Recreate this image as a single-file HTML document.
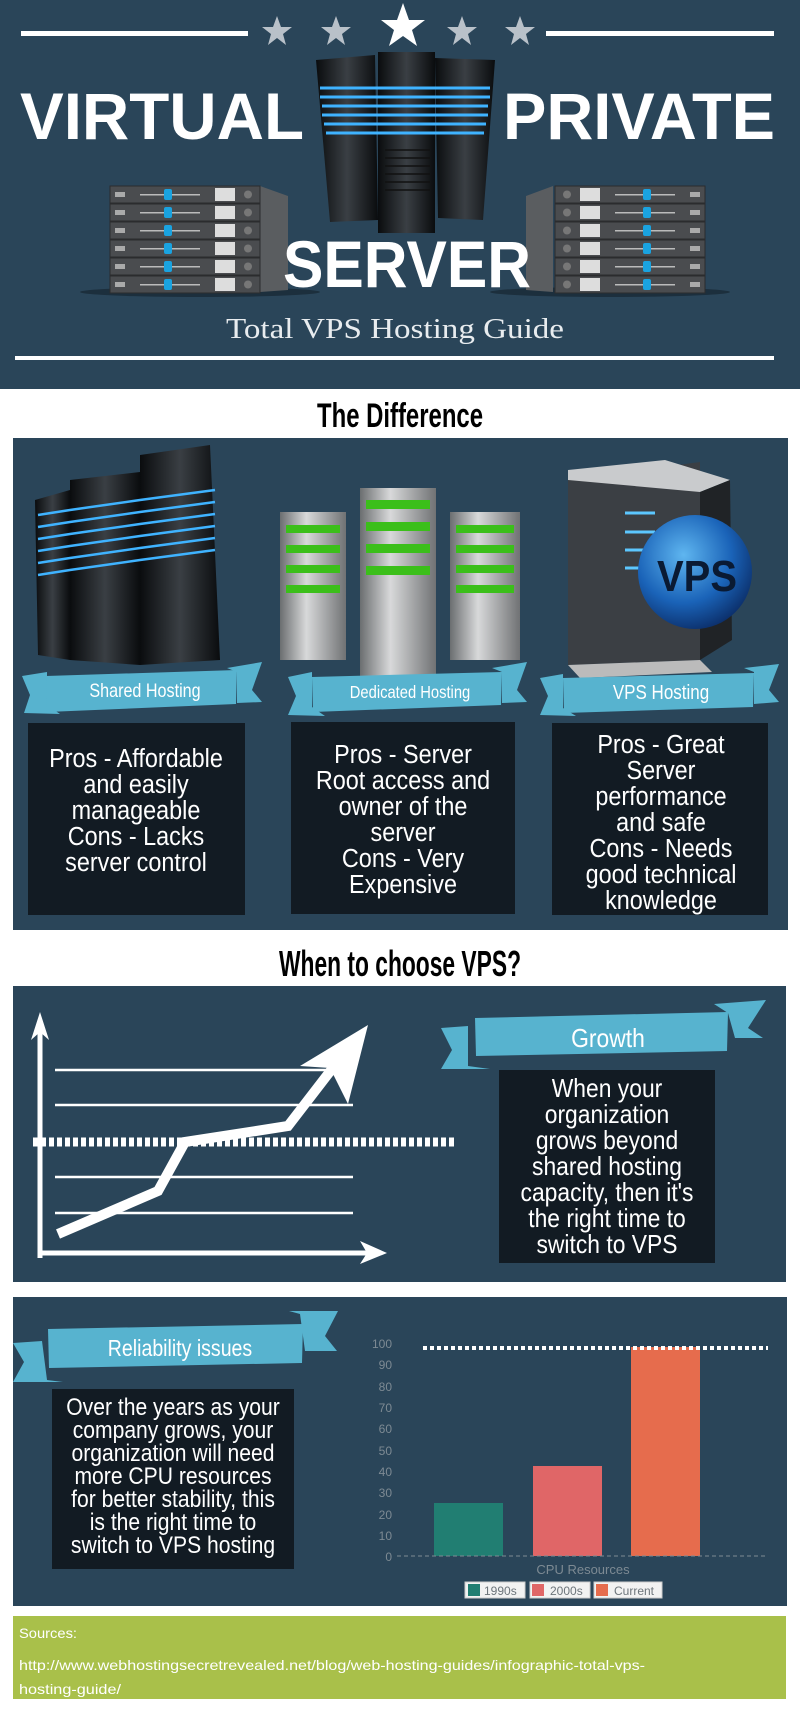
<!DOCTYPE html>
<html><head><meta charset="utf-8"><style>
html,body{margin:0;padding:0;background:#fff;width:800px;height:1712px;overflow:hidden}
svg{display:block}
.t{font-family:"Liberation Sans",sans-serif;fill:#fff}
</style></head><body>
<svg width="800" height="1712" viewBox="0 0 800 1712" xmlns="http://www.w3.org/2000/svg">
<defs>
<linearGradient id="tw" x1="0" x2="1"><stop offset="0" stop-color="#0a0c0e"/><stop offset=".5" stop-color="#3a3f44"/><stop offset="1" stop-color="#0a0c0e"/></linearGradient>
<linearGradient id="silver" x1="0" x2="1"><stop offset="0" stop-color="#6b6e70"/><stop offset=".4" stop-color="#d8d9da"/><stop offset="1" stop-color="#707274"/></linearGradient>
<radialGradient id="globe" cx=".4" cy=".35" r=".7"><stop offset="0" stop-color="#5fb6f0"/><stop offset=".6" stop-color="#1a63b8"/><stop offset="1" stop-color="#0b2c66"/></radialGradient>
<g id="rackL">
 <rect x="0" y="0" width="150" height="17" fill="#4a4c4f" stroke="#2b2c2e"/>
 <rect x="5" y="6" width="10" height="5" fill="#aaa"/>
 <rect x="30" y="8" width="60" height="1.5" fill="#bbb"/>
 <rect x="54" y="3" width="8" height="11" rx="2" fill="#1aa3e0"/>
 <rect x="105" y="2" width="20" height="13" fill="#ddd"/>
 <circle cx="138" cy="8.5" r="4" fill="#777"/>
</g>
</defs>

<rect x="0" y="0" width="800" height="389" fill="#2a4559"/>
<rect x="21" y="31" width="227" height="5" fill="#fff"/>
<rect x="546" y="31" width="228" height="5" fill="#fff"/>
<g fill="#b9c1c9">
<polygon points="277,16 281,27 292,27 283,34 286,45 277,38 268,45 271,34 262,27 273,27"/>
<polygon points="336,16 340,27 351,27 342,34 345,45 336,38 327,45 330,34 321,27 332,27"/>
<polygon points="462,16 466,27 477,27 468,34 471,45 462,38 453,45 456,34 447,27 458,27"/>
<polygon points="520,16 524,27 535,27 526,34 529,45 520,38 511,45 514,34 505,27 516,27"/>
</g>
<polygon fill="#fff" points="403,3 409,20 425,20 412,30 417,46 403,36 389,46 394,30 381,20 397,20"/>

<polygon points="316,60 375,55 378,220 330,222" fill="url(#tw)"/>
<polygon points="435,58 495,60 483,220 438,218" fill="url(#tw)"/>
<rect x="378" y="52" width="57" height="181" fill="url(#tw)"/>
<g stroke="#3fb3ff" stroke-width="3">
<line x1="320" y1="88" x2="490" y2="88"/><line x1="320" y1="97" x2="490" y2="97"/>
<line x1="322" y1="106" x2="488" y2="106"/><line x1="322" y1="115" x2="488" y2="115"/>
<line x1="324" y1="124" x2="486" y2="124"/><line x1="326" y1="133" x2="484" y2="133"/>
</g>
<g stroke="#111" stroke-width="1.5"><line x1="385" y1="150" x2="430" y2="150"/><line x1="385" y1="158" x2="430" y2="158"/><line x1="385" y1="166" x2="430" y2="166"/><line x1="385" y1="174" x2="430" y2="174"/><line x1="385" y1="182" x2="430" y2="182"/><line x1="385" y1="190" x2="430" y2="190"/></g>

<ellipse cx="200" cy="292" rx="120" ry="5" fill="#1c2f3d"/>
<ellipse cx="610" cy="292" rx="120" ry="5" fill="#1c2f3d"/>
<polygon points="260,186 288,196 288,290 260,292" fill="#5a5d60"/>
<g transform="translate(110,186)"><use href="#rackL"/><use href="#rackL" y="18"/><use href="#rackL" y="36"/><use href="#rackL" y="54"/><use href="#rackL" y="72"/><use href="#rackL" y="90"/></g>
<polygon points="553,186 526,196 526,290 553,292" fill="#5a5d60"/>
<g transform="translate(705,186) scale(-1,1)"><use href="#rackL"/><use href="#rackL" y="18"/><use href="#rackL" y="36"/><use href="#rackL" y="54"/><use href="#rackL" y="72"/><use href="#rackL" y="90"/></g>

<text x="20" y="139" font-family="Liberation Sans,sans-serif" font-weight="bold" font-size="66" fill="#fff" textLength="284" lengthAdjust="spacingAndGlyphs">VIRTUAL</text>
<text x="503" y="139" font-family="Liberation Sans,sans-serif" font-weight="bold" font-size="66" fill="#fff" textLength="272" lengthAdjust="spacingAndGlyphs">PRIVATE</text>
<text x="283" y="287" font-family="Liberation Sans,sans-serif" font-weight="bold" font-size="66" fill="#fff" textLength="248" lengthAdjust="spacingAndGlyphs">SERVER</text>
<text x="226" y="338" font-family="Liberation Serif,serif" font-size="28" fill="#e8ecef" textLength="338" lengthAdjust="spacingAndGlyphs">Total VPS Hosting Guide</text>
<rect x="15" y="356" width="759" height="4" fill="#fff"/>

<text x="400" y="427" text-anchor="middle" font-family="Liberation Sans,sans-serif" font-weight="bold" font-size="34" fill="#000" textLength="166" lengthAdjust="spacingAndGlyphs">The Difference</text>
<rect x="13" y="438" width="775" height="492" fill="#2a4559"/>

<g>
<polygon points="35,500 70,490 70,660 38,655" fill="url(#tw)"/>
<polygon points="70,480 140,472 140,665 70,660" fill="url(#tw)"/>
<polygon points="140,455 210,445 220,660 140,665" fill="url(#tw)"/>
<g stroke="#3fb3ff" stroke-width="2.5" fill="none">
<path d="M38,515 L70,510 L140,500 L215,490"/><path d="M38,527 L70,522 L140,512 L215,502"/>
<path d="M38,539 L70,534 L140,524 L215,514"/><path d="M38,551 L70,546 L140,536 L215,526"/>
<path d="M38,563 L70,558 L140,548 L215,538"/><path d="M38,575 L70,570 L140,560 L215,550"/>
</g>
</g>
<g>
<rect x="280" y="512" width="66" height="148" fill="url(#silver)"/>
<rect x="360" y="488" width="76" height="190" fill="url(#silver)"/>
<rect x="450" y="512" width="70" height="148" fill="url(#silver)"/>
<g fill="#3bbf1a">
<rect x="286" y="525" width="54" height="8"/><rect x="286" y="545" width="54" height="8"/><rect x="286" y="565" width="54" height="8"/><rect x="286" y="585" width="54" height="8"/>
<rect x="366" y="500" width="64" height="9"/><rect x="366" y="522" width="64" height="9"/><rect x="366" y="544" width="64" height="9"/><rect x="366" y="566" width="64" height="9"/>
<rect x="456" y="525" width="58" height="8"/><rect x="456" y="545" width="58" height="8"/><rect x="456" y="565" width="58" height="8"/><rect x="456" y="585" width="58" height="8"/>
</g>
</g>
<g>
<polygon points="568,480 700,462 700,660 568,665" fill="#3b3f44"/>
<polygon points="568,470 665,460 730,480 700,492 568,480" fill="#c9cbcd"/>
<polygon points="700,492 730,480 732,640 700,660" fill="#202326"/>
<g stroke="#5cc7ff" stroke-width="3"><line x1="625" y1="513" x2="655" y2="513"/><line x1="625" y1="532" x2="655" y2="532"/><line x1="625" y1="550" x2="655" y2="550"/><line x1="625" y1="568" x2="655" y2="568"/></g>
<polygon points="568,665 700,660 712,672 580,678" fill="#bbb"/>
<circle cx="695" cy="572" r="57" fill="url(#globe)"/>
<text x="697" y="591" text-anchor="middle" font-family="Liberation Sans,sans-serif" font-weight="bold" font-size="44" fill="#0a1a33" textLength="80" lengthAdjust="spacingAndGlyphs">VPS</text>
</g>

<g fill="#57b3cf">
<polygon points="22,676 47,672 47,705 60,714 24,713 30,695"/>
<polygon points="237,672 227,668 262,662 252,690 262,702 237,703"/>
<polygon points="46,676 237,670 236,704 47,712"/>
<polygon points="288,677 312,672 312,707 325,716 288,715 296,696"/>
<polygon points="502,672 492,668 527,662 517,690 527,702 502,703"/>
<polygon points="312,677 502,672 501,705 313,712"/>
<polygon points="540,678 563,674 563,708 576,716 540,715 548,696"/>
<polygon points="754,672 744,668 779,664 769,690 779,702 754,704"/>
<polygon points="563,678 754,673 753,707 564,713"/>
</g>
<g class="t" text-anchor="middle">
<g transform="translate(145,0) scale(0.85,1)"><text x="0" y="697" font-size="19">Shared Hosting</text></g>
<g transform="translate(410,0) scale(0.82,1)"><text x="0" y="698" font-size="18">Dedicated Hosting</text></g>
<g transform="translate(661,0) scale(0.85,1)"><text x="0" y="699" font-size="20">VPS Hosting</text></g>
</g>

<rect x="28" y="723" width="217" height="192" fill="#121b23"/>
<rect x="291" y="722" width="224" height="192" fill="#121b23"/>
<rect x="552" y="723" width="216" height="192" fill="#121b23"/>
<g class="t" font-size="26" text-anchor="middle">
<g transform="translate(136,0) scale(0.9,1)"><text y="767">Pros - Affordable</text><text y="793">and easily</text><text y="819">manageable</text><text y="845">Cons - Lacks</text><text y="871">server control</text></g>
<g transform="translate(403,0) scale(0.9,1)"><text y="763">Pros - Server</text><text y="789">Root access and</text><text y="815">owner of the</text><text y="841">server</text><text y="867">Cons - Very</text><text y="893">Expensive</text></g>
<g transform="translate(661,0) scale(0.9,1)"><text y="753">Pros - Great</text><text y="779">Server</text><text y="805">performance</text><text y="831">and safe</text><text y="857">Cons - Needs</text><text y="883">good technical</text><text y="909">knowledge</text></g>
</g>

<text x="400" y="976" text-anchor="middle" font-family="Liberation Sans,sans-serif" font-weight="bold" font-size="36" fill="#000" textLength="242" lengthAdjust="spacingAndGlyphs">When to choose VPS?</text>
<rect x="13" y="986" width="773" height="296" fill="#2a4559"/>
<g stroke="#fff" stroke-width="2.5">
<line x1="55" y1="1070" x2="353" y2="1070"/><line x1="55" y1="1105" x2="353" y2="1105"/>
<line x1="55" y1="1177" x2="353" y2="1177"/><line x1="55" y1="1213" x2="353" y2="1213"/>
</g>
<line x1="33" y1="1142" x2="457" y2="1142" stroke="#fff" stroke-width="9" stroke-dasharray="5,3"/>
<g stroke="#fff" stroke-width="5" fill="none"><polyline points="40,1258 40,1022"/><polyline points="38,1253 380,1253"/></g>
<polygon points="40,1012 31,1040 40,1032 49,1040" fill="#fff"/>
<polygon points="387,1253 360,1241 367,1253 360,1264" fill="#fff"/>
<polyline points="58,1234 158,1191 185,1142 288,1126 335,1065" stroke="#fff" stroke-width="10" fill="none"/>
<polygon points="368,1025 300,1066 330,1068 348,1104" fill="#fff"/>

<g fill="#57b3cf">
<polygon points="441,1028 468,1026 468,1066 490,1069 441,1069 452,1050"/>
<polygon points="728,1013 714,1004 766,1000 748,1028 763,1038 735,1038"/>
<polygon points="475,1018 728,1012 727,1051 476,1056"/>
</g>
<g transform="translate(608,0) scale(0.88,1)"><text class="t" x="0" y="1047" text-anchor="middle" font-size="26">Growth</text></g>
<rect x="499" y="1070" width="216" height="193" fill="#121b23"/>
<g class="t" font-size="26" text-anchor="middle" transform="translate(607,0) scale(0.88,1)">
<text y="1097">When your</text><text y="1123">organization</text><text y="1149">grows beyond</text><text y="1175">shared hosting</text><text y="1201">capacity, then it's</text><text y="1227">the right time to</text><text y="1253">switch to VPS</text>
</g>

<rect x="13" y="1297" width="774" height="309" fill="#2a4559"/>
<g fill="#57b3cf">
<polygon points="13,1343 42,1341 47,1380 63,1382 13,1382 24,1362"/>
<polygon points="300,1314 289,1311 338,1311 325,1336 337,1351 305,1351"/>
<polygon points="48,1329 303,1324 302,1363 49,1368"/>
</g>
<g transform="translate(180,0) scale(0.85,1)"><text class="t" x="0" y="1356" text-anchor="middle" font-size="23">Reliability issues</text></g>
<rect x="52" y="1389" width="242" height="180" fill="#121b23"/>
<g class="t" font-size="24" text-anchor="middle" transform="translate(173,0) scale(0.88,1)">
<text y="1415">Over the years as your</text><text y="1438">company grows, your</text><text y="1461">organization will need</text><text y="1484">more CPU resources</text><text y="1507">for better stability, this</text><text y="1530">is the right time to</text><text y="1553">switch to VPS hosting</text>
</g>

<g font-family="Liberation Sans,sans-serif" font-size="12" fill="#7d8a93" text-anchor="end">
<text x="392" y="1348">100</text><text x="392" y="1369">90</text><text x="392" y="1391">80</text><text x="392" y="1412">70</text><text x="392" y="1433">60</text><text x="392" y="1455">50</text><text x="392" y="1476">40</text><text x="392" y="1497">30</text><text x="392" y="1519">20</text><text x="392" y="1540">10</text><text x="392" y="1561">0</text>
</g>
<rect x="434" y="1503" width="69" height="53" fill="#217e72"/>
<rect x="533" y="1466" width="69" height="90" fill="#e06667"/>
<rect x="631" y="1347" width="69" height="209" fill="#e66c4d"/>
<line x1="397" y1="1556" x2="768" y2="1556" stroke="#7d8a93" stroke-width="1" stroke-dasharray="4,3"/>
<line x1="423" y1="1348" x2="768" y2="1348" stroke="#fff" stroke-width="4" stroke-dasharray="4,3"/>
<text x="583" y="1574" text-anchor="middle" font-family="Liberation Sans,sans-serif" font-size="13" fill="#7d8a93">CPU Resources</text>
<g font-family="Liberation Sans,sans-serif" font-size="12" fill="#6d757b">
<rect x="465" y="1582" width="60" height="16" fill="#f2f2f2" stroke="#ccc"/><rect x="468" y="1584" width="12" height="12" fill="#217e72"/><text x="484" y="1595">1990s</text>
<rect x="530" y="1582" width="60" height="16" fill="#f2f2f2" stroke="#ccc"/><rect x="532" y="1584" width="12" height="12" fill="#e06667"/><text x="550" y="1595">2000s</text>
<rect x="594" y="1582" width="68" height="16" fill="#f2f2f2" stroke="#ccc"/><rect x="596" y="1584" width="12" height="12" fill="#e66c4d"/><text x="614" y="1595">Current</text>
</g>

<rect x="13" y="1616" width="773" height="83" fill="#a9c04a"/>
<g class="t" font-size="14">
<text x="19" y="1638" textLength="58" lengthAdjust="spacingAndGlyphs">Sources:</text>
<text x="19" y="1670" textLength="626" lengthAdjust="spacingAndGlyphs">http://www.webhostingsecretrevealed.net/blog/web-hosting-guides/infographic-total-vps-</text>
<text x="19" y="1694" textLength="102" lengthAdjust="spacingAndGlyphs">hosting-guide/</text>
</g>
</svg>
</body></html>
